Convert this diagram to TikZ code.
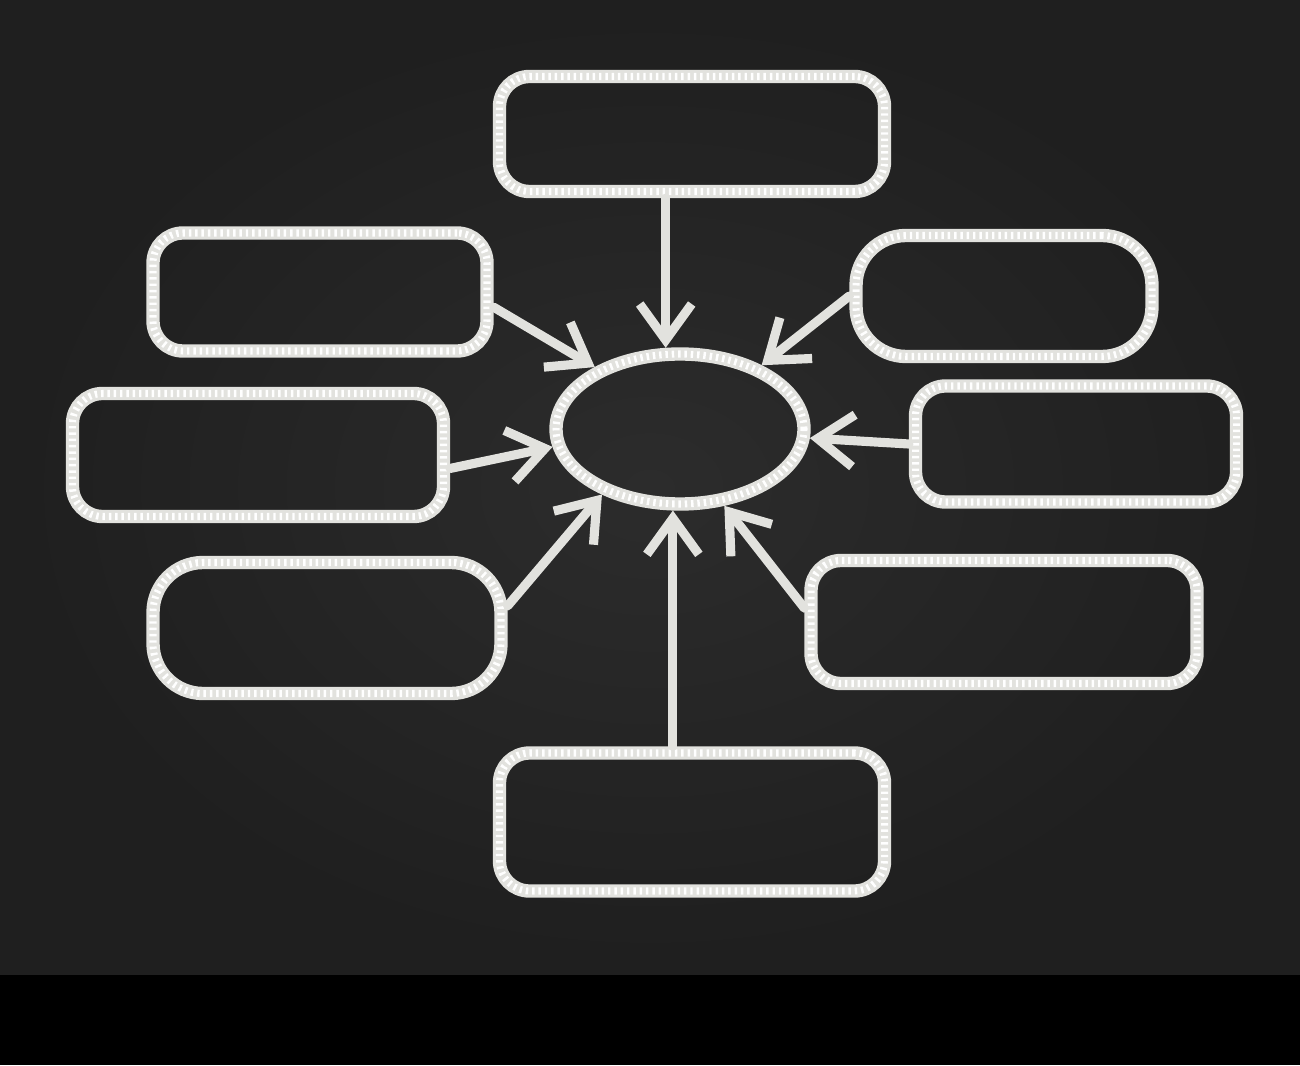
\documentclass[tikz,border=0pt]{standalone}
\usetikzlibrary{arrows.meta,shapes.geometric}
\definecolor{pizarra}{RGB}{44,44,44}
\definecolor{tizablanca}{RGB}{226,226,222}
\begin{document}
\begin{tikzpicture}[inner sep=0mm]
\tikzstyle{tiza}=[draw=tizablanca, line width=3.8pt, rounded corners=3mm, postaction={draw=white, line width=2pt, dash pattern=on 0.7pt off 1.1pt}]
\tikzstyle{flecha}=[draw=tizablanca, line width=2.6pt, line cap=round, line join=round, -{Straight Barb[length=3.6mm,width=5.2mm]}]
\useasboundingbox (0,0) rectangle (13,10.65);
\shade[inner color=pizarra, outer color=black!88] (0,0.9) rectangle (13,10.65);
\fill[black] (0,0) rectangle (13,0.9);
\node at (6.80,6.36) (centro)[tiza,ellipse,minimum width=2.48cm,minimum height=1.50cm] {};
\node at (6.92,9.31) (caja1)[tiza,minimum width=3.85cm,minimum height=1.15cm] {};
\node at (3.20,7.73) (caja2)[tiza,minimum width=3.34cm,minimum height=1.18cm] {};
\node at (10.04,7.69) (caja3)[tiza,rounded corners=5mm,minimum width=2.96cm,minimum height=1.21cm] {};
\node at (2.58,6.10) (caja4)[tiza,minimum width=3.71cm,minimum height=1.23cm] {};
\node at (10.76,6.21) (caja5)[tiza,minimum width=3.21cm,minimum height=1.16cm] {};
\node at (3.27,4.37) (caja6)[tiza,rounded corners=5mm,minimum width=3.48cm,minimum height=1.31cm] {};
\node at (10.04,4.43) (caja7)[tiza,minimum width=3.86cm,minimum height=1.23cm] {};
\node at (6.92,2.43) (caja8)[tiza,minimum width=3.85cm,minimum height=1.38cm] {};
\draw [flecha] (caja1.south -| centro.100) to (centro.100);
\draw [flecha] (caja2.-5) to (centro.144);
\draw [flecha] (caja3.west) to (centro.38);
\draw [flecha] (caja4.-4) to (centro.188);
\draw [flecha] (caja5.west) to (centro.-4);
\draw [flecha] (caja6.7) to (centro.220);
\draw [flecha] (caja7.176) to (centro.300);
\draw [flecha] (caja8.north -| centro.265) to (centro.265);
\end{tikzpicture}
\end{document}
